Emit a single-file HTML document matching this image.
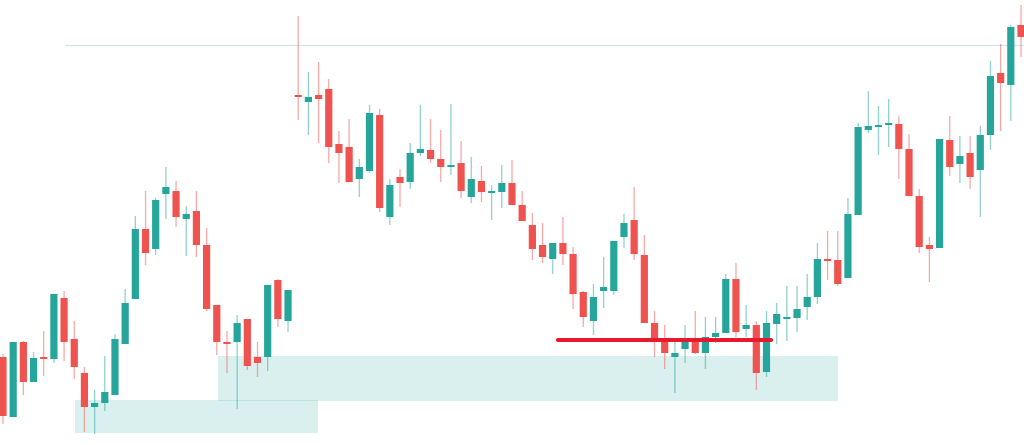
<!DOCTYPE html>
<html><head><meta charset="utf-8"><style>
html,body{margin:0;padding:0;background:#fff;}
svg{display:block;}
</style></head><body>
<svg id="chart" width="1024" height="445" viewBox="0 0 1024 445" xmlns="http://www.w3.org/2000/svg">
<rect x="75" y="400" width="243" height="33" fill="#26a69a" fill-opacity="0.17"/>
<rect x="218" y="356" width="620" height="45" fill="#26a69a" fill-opacity="0.17"/>
<line x1="65" y1="45.5" x2="1024" y2="45.5" stroke="#cfe8e5" stroke-width="1.2"/>
<g id="candles"></g>
<line x1="558" y1="340" x2="771" y2="340" stroke="#e8192c" stroke-width="4" stroke-linecap="round"/>
</svg>
<script>
const opens=[88,28,103,63,88,86,147,106,72,38,42,50,101,146,216,196,251,254,226,234,200,140,103,103,126,88,88,165,124,350,343,350,356,301,298,266,274,330,228,268,263,292,295,286,279,282,248,264,253,253,262,240,220,200,186,202,191,153,124,154,154,208,225,190,122,103,88,96,103,92,108,112,166,116,120,73,121,127,127,138,148,186,185,167,230,315,319,321,321,296,249,200,197,305,281,292,275,310,372,360,420];
const closes=[29,103,63,87,87,151,103,78,38,42,53,106,142,216,192,245,258,228,231,200,136,103,102,122,79,82,160,126,155,349,348,346,298,292,263,278,332,237,260,262,292,296,286,278,280,254,266,253,254,262,240,224,196,188,202,191,151,128,148,158,204,222,191,122,106,92,92,103,92,108,112,166,113,120,72,122,131,128,136,148,186,185,161,231,318,319,320,322,296,249,198,196,306,278,289,268,310,369,362,418,408];
const highs=[91,103,104,93,114,151,154,124,78,55,89,111,156,229,254,247,278,264,239,254,217,140,114,130,126,103,160,166,155,429,373,383,366,314,326,286,340,336,266,276,302,340,326,315,341,304,288,279,260,280,285,254,232,222,202,228,198,154,161,188,204,231,258,210,134,120,104,120,134,128,128,171,182,140,124,134,142,159,159,171,202,214,214,247,322,354,339,346,329,311,256,208,306,329,309,309,319,384,401,420,440];
const lows=[21,28,50,63,69,82,84,66,13,11,34,50,101,146,180,190,226,218,189,188,134,90,72,36,75,68,74,118,113,325,310,302,282,262,263,248,272,233,220,238,256,289,282,263,270,247,242,243,225,237,240,224,185,182,171,180,136,118,110,137,150,197,185,122,88,76,52,82,91,76,102,112,108,108,55,68,101,104,113,125,141,165,159,167,230,312,290,298,266,249,192,163,197,269,262,256,228,295,314,324,388];
const UP='#26a69a',DN='#ef5350';
function xPos(i){return 3+i*10.18;}
function yPos(p){return 445-p;}
const g=document.getElementById('candles');
const NS='http://www.w3.org/2000/svg';
for(let i=0;i<opens.length;i++){
  const o=opens[i],c=closes[i],h=highs[i],l=lows[i];
  const col=c>=o?UP:DN;
  const x=xPos(i);
  const w=document.createElementNS(NS,'line');
  
  
  w.setAttribute('x1',x);w.setAttribute('x2',x);
  w.setAttribute('y1',yPos(h));w.setAttribute('y2',yPos(l));
  w.setAttribute('stroke',col);w.setAttribute('stroke-opacity','0.5');w.setAttribute('stroke-width','1.3');
  g.appendChild(w);
  const b=document.createElementNS(NS,'rect');
  
  
  const top=yPos(Math.max(o,c)),bot=yPos(Math.min(o,c));
  b.setAttribute('x',x-3.6);b.setAttribute('width',7.2);
  b.setAttribute('y',top);b.setAttribute('height',Math.max(2,bot-top));
  b.setAttribute('fill',col);
  g.appendChild(b);
}
</script>
</body></html>
